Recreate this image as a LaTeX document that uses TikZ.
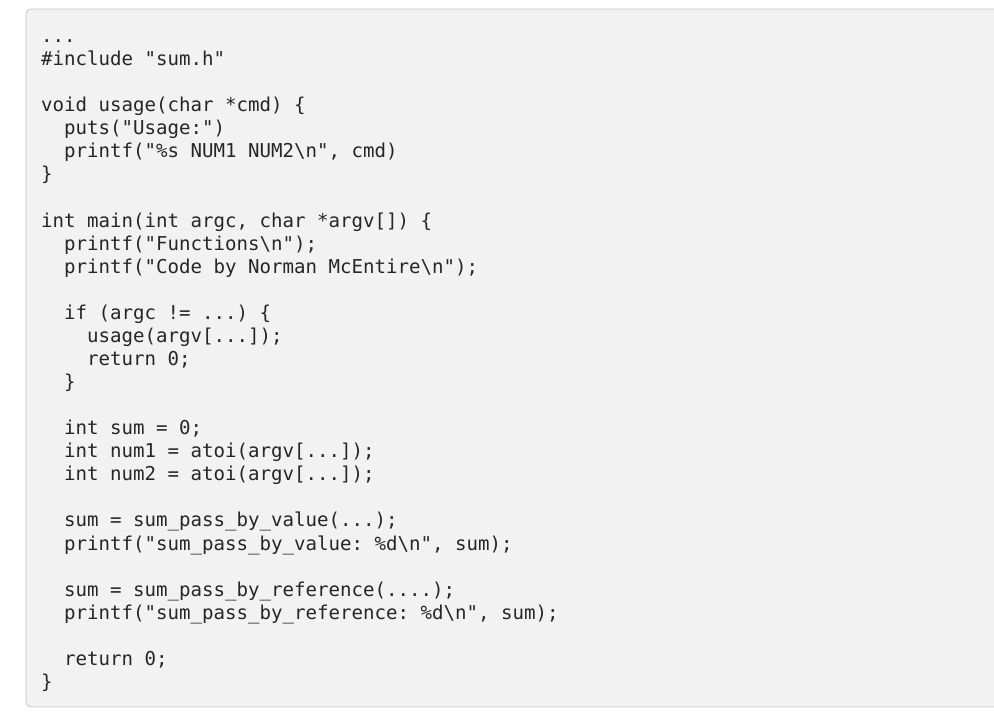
\documentclass[tikz,border=0pt]{standalone}
\usepackage{fontspec}
\setmonofont{DejaVu Sans Mono}
\begin{document}
\begin{tikzpicture}[x=1pt,y=-1pt,
  codeline/.style={anchor=base west,inner sep=0pt,font=\ttfamily\fontsize{19.1}{22}\selectfont,text=black!85}]
\useasboundingbox (0,0) rectangle (994,718);
\draw[fill=black!5,draw=black!22,rounded corners=5pt,line width=0.8pt] (26,9) rectangle (1010,707);
\newcommand{\bs}{\textbackslash}
\foreach \i/\t in {
0/{...},
1/{\#include "sum.h"},
3/{void usage(char *cmd) \{},
4/{\ \ puts("Usage:")},
5/{\ \ printf("\%s NUM1 NUM2\bs n", cmd)},
6/{\}},
8/{int main(int argc, char *argv[]) \{},
9/{\ \ printf("Functions\bs n");},
10/{\ \ printf("Code by Norman McEntire\bs n");},
12/{\ \ if (argc != ...) \{},
13/{\ \ \ \ usage(argv[...]);},
14/{\ \ \ \ return 0;},
15/{\ \ \}},
17/{\ \ int sum = 0;},
18/{\ \ int num1 = atoi(argv[...]);},
19/{\ \ int num2 = atoi(argv[...]);},
21/{\ \ sum = sum\_pass\_by\_value(...);},
22/{\ \ printf("sum\_pass\_by\_value: \%d\bs n", sum);},
24/{\ \ sum = sum\_pass\_by\_reference(....);},
25/{\ \ printf("sum\_pass\_by\_reference: \%d\bs n", sum);},
27/{\ \ return 0;},
28/{\}}}
  \node[codeline] (line\i) at (41,{41+23.07*\i+1.5}) {\t};
\end{tikzpicture}
\end{document}
